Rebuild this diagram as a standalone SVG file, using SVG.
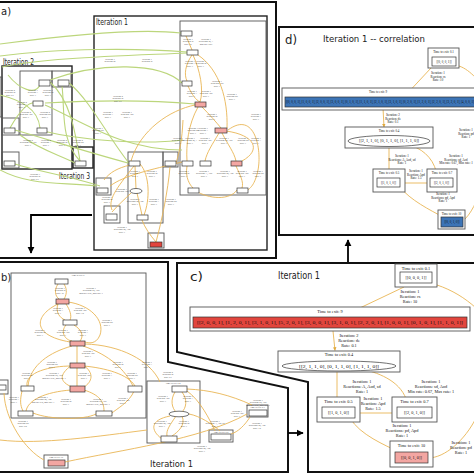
<svg xmlns="http://www.w3.org/2000/svg" width="474" height="474" viewBox="0 0 474 474">
<defs>
<marker id="ah" viewBox="0 0 6 6" refX="5.5" refY="3" markerWidth="4" markerHeight="4" orient="auto"><path d="M0,0 L6,3 L0,6 z" fill="#e0a93c"/></marker>
<marker id="bh" viewBox="0 0 10 10" refX="9" refY="5" markerWidth="4" markerHeight="4" orient="auto"><path d="M0,0 L10,5 L0,10 z" fill="#000"/></marker>
<style>
.frame{fill:none;stroke:#111;stroke-width:2}
.it{fill:none;stroke:#222;stroke-width:1.4}
.box{fill:#fff;stroke:#555;stroke-width:0.9}
.boxn{fill:none;stroke:#555;stroke-width:0.9}
.nd{fill:#fff;stroke:#333;stroke-width:0.7}
.pk{fill:#f3a6a2;stroke:#333;stroke-width:0.7}
.rd{fill:#e2453d;stroke:#333;stroke-width:0.7}
.bl{fill:#3c74b6;stroke:#333;stroke-width:0.7}
.o{fill:none;stroke:#e9b655;stroke-width:0.9}
.g{fill:none;stroke:#bcd67c;stroke-width:1.1}
.ttl{font-family:"DejaVu Sans",sans-serif;fill:#222}
.lb{font-family:"Liberation Serif",serif;font-size:4.3px;text-anchor:middle;fill:#111}
.ld{font-family:"Liberation Serif",serif;font-size:3.1px;text-anchor:middle;fill:#111}
.la{font-family:"Liberation Serif",serif;font-size:2.2px;text-anchor:middle;fill:#333}
</style>
</defs>
<rect width="474" height="474" fill="#fff"/>

<!-- ============ Panel a ============ -->
<g id="panel-a">
<rect class="frame" x="-2" y="2" width="278" height="256"/>
<text class="ttl" x="1" y="15" font-size="10">a)</text>
<rect class="it" x="94" y="16" width="173" height="234"/>
<text class="ttl" x="96" y="25" font-size="8" textLength="32" lengthAdjust="spacingAndGlyphs">Iteration 1</text>
<rect class="boxn" x="180" y="21" width="86" height="174"/>
<rect class="it" x="2" y="66" width="70" height="103"/>
<text class="ttl" x="3" y="65" font-size="8" textLength="31" lengthAdjust="spacingAndGlyphs">Iteration 2</text>
<text class="ttl" x="59" y="179" font-size="8" textLength="31" lengthAdjust="spacingAndGlyphs">Iteration 3</text>
<rect class="boxn" x="20" y="71" width="32" height="64"/>
<rect class="boxn" x="52" y="71" width="19" height="16"/>
<rect class="boxn" x="2" y="118" width="17" height="17"/>
<rect class="boxn" x="2" y="152" width="17" height="16"/>
<rect class="it" x="73" y="147" width="20" height="21"/>
<rect class="boxn" x="0" y="77" width="2" height="40" fill="#888"/>
<rect class="boxn" x="128" y="152" width="35" height="71"/>
<rect class="boxn" x="163" y="152" width="15" height="15"/>
<rect class="boxn" x="96" y="178" width="15" height="17"/>
<rect class="boxn" x="104" y="206" width="16" height="17"/>
<rect class="boxn" x="148" y="233" width="16" height="15"/>
</g>

<g id="edges-a">
<path class="g" d="M0,44 C60,36 140,28 181,33"/>
<path class="g" d="M0,56 C60,48 140,48 187,52"/>
<path class="g" d="M2,67 C40,58 120,56 187,53"/>
<path class="g" d="M50,80 C100,62 160,62 182,83"/>
<path class="g" d="M45,103 C100,100 150,100 195,104"/>
<path class="g" d="M0,170 C30,186 60,182 96,186"/>
<path class="g" d="M15,130 C50,140 80,150 128,163"/>
<path class="g" d="M69,83 C90,100 110,140 129,163"/>
<path class="g" d="M45,105 C80,120 120,150 182,150"/>
<path class="g" d="M50,82 C70,100 75,130 80,161"/>
<path class="g" d="M15,164 C40,172 70,176 100,186"/>
<path class="g" d="M43,131 C80,140 140,145 183,140"/>
<path class="g" d="M0,95 C20,100 38,108 40,128"/>
<path class="g" d="M10,128 C20,110 30,100 38,103"/>
<path class="g" d="M62,86 C65,110 60,140 80,161"/>
<path class="g" d="M8,75 C20,90 35,95 40,85"/>
<path class="g" d="M20,135 C40,150 60,155 75,163"/>
<path class="o" d="M186,36 L192,50"/>
<path class="o" d="M192,55 C185,65 184,75 187,81"/>
<path class="o" d="M193,55 C200,70 204,90 200,102"/>
<path class="o" d="M188,86 C192,95 196,100 200,102"/>
<path class="o" d="M202,107 C210,115 216,122 221,128"/>
<path class="o" d="M198,107 C188,125 186,145 187,161"/>
<path class="o" d="M219,133 C212,145 207,152 205,161"/>
<path class="o" d="M222,133 C228,145 234,152 236,161"/>
<path class="o" d="M187,166 C185,178 190,185 193,188"/>
<path class="o" d="M236,166 C240,175 244,182 242,188"/>
<path class="o" d="M198,55 C220,70 228,100 227,128"/>
<path class="o" d="M226,131 C255,135 262,150 242,161"/>
<path class="o" d="M228,130 C255,110 262,150 258,170 C255,185 250,188 248,190"/>
<path class="o" d="M194,190 C210,200 230,200 237,190"/>
<path class="o" d="M131,161 C140,130 170,110 195,105"/>
<path class="o" d="M135,166 L136,189"/>
<path class="o" d="M130,165 C118,168 110,172 104,180"/>
<path class="o" d="M137,193 L142,215"/>
<path class="o" d="M112,212 C118,205 126,198 131,193"/>
<path class="o" d="M156,242 C150,235 145,228 142,220"/>
<path class="o" d="M170,167 C168,190 162,220 156,242"/>
<path class="o" d="M134,166 C115,190 108,200 112,210"/>
<path class="o" d="M140,164 C150,175 150,200 144,215"/>
<path class="o" d="M176,163 C180,150 182,140 183,120"/>
<path class="o" d="M110,186 C125,175 150,170 182,162"/>
</g>

<g id="nodes-a">
<rect class="nd" x="181" y="31" width="11" height="5"/>
<rect class="nd" x="187" y="50" width="11" height="5"/>
<rect class="nd" x="182" y="81" width="10" height="5"/>
<rect class="pk" x="195" y="102" width="11" height="5"/>
<rect class="pk" x="215" y="128" width="12" height="5"/>
<rect class="nd" x="182" y="161" width="11" height="5"/>
<rect class="nd" x="200" y="161" width="11" height="5"/>
<rect class="pk" x="231" y="161" width="11" height="5"/>
<rect class="nd" x="188" y="188" width="11" height="5"/>
<rect class="nd" x="237" y="188" width="11" height="5"/>
<rect class="nd" x="129" y="161" width="11" height="5"/>
<ellipse class="nd" cx="136" cy="191" rx="6" ry="2.5"/>
<rect class="nd" x="137" y="215" width="11" height="5"/>
<rect class="nd" x="165" y="161" width="11" height="5"/>
<rect class="nd" x="97" y="188" width="11" height="5"/>
<rect class="nd" x="106" y="214" width="11" height="6"/>
<rect class="rd" x="150" y="242" width="12" height="5"/>
<rect class="nd" x="39" y="80" width="11" height="6"/>
<rect class="nd" x="58" y="80" width="11" height="6"/>
<rect class="nd" x="33" y="101" width="10" height="5"/>
<rect class="nd" x="37" y="128" width="10" height="5"/>
<rect class="nd" x="4" y="128" width="11" height="5"/>
<rect class="nd" x="4" y="161" width="11" height="5"/>
<rect class="nd" x="75" y="161" width="11" height="5"/>
</g>

<g id="labels-a">
<text class="la" x="110" y="60"><tspan x="110">Iteration: 1</tspan><tspan x="110" dy="2.3">Reaction: sd</tspan></text>
<text class="la" x="147" y="60"><tspan x="147">Iteration: 1</tspan><tspan x="147" dy="2.3">Reaction: rs</tspan></text>
<text class="la" x="118" y="97"><tspan x="118">Iteration: 2</tspan><tspan x="118" dy="2.3">Reaction: de</tspan><tspan x="118" dy="2.3">Rate: 0.1</tspan></text>
<text class="la" x="108" y="113"><tspan x="108">Iteration: 1</tspan><tspan x="108" dy="2.3">Reaction: A</tspan><tspan x="108" dy="2.3">Rate: 1</tspan></text>
<text class="la" x="127" y="113"><tspan x="127">Iteration: 1</tspan><tspan x="127" dy="2.3">Reaction: Apd</tspan><tspan x="127" dy="2.3">Rate: 1</tspan></text>
<text class="la" x="98" y="129"><tspan x="98">Iteration: 1</tspan><tspan x="98" dy="2.3">Reaction: pd</tspan><tspan x="98" dy="2.3">Rate: 1</tspan></text>
<text class="la" x="188" y="40"><tspan x="188">Iteration: 1</tspan><tspan x="188" dy="2.3">Reaction: rs</tspan><tspan x="188" dy="2.3">Rate: 10</tspan></text>
<text class="la" x="206" y="40"><tspan x="206">Iteration: 1</tspan><tspan x="206" dy="2.3">Reactions: sd, A</tspan><tspan x="206" dy="2.3">Min rate: 0.67</tspan></text>
<text class="la" x="190" y="62"><tspan x="190">Iteration: 1</tspan><tspan x="190" dy="2.3">Reaction: A</tspan><tspan x="190" dy="2.3">Rate: 1</tspan></text>
<text class="la" x="201" y="62"><tspan x="201">Iteration: 1</tspan><tspan x="201" dy="2.3">Reaction: sd</tspan><tspan x="201" dy="2.3">Rate: 1</tspan></text>
<text class="la" x="217" y="82"><tspan x="217">Iteration: 1</tspan><tspan x="217" dy="2.3">Reaction: Aod</tspan><tspan x="217" dy="2.3">Rate: 1</tspan></text>
<text class="la" x="232" y="95"><tspan x="232">Iteration: 1</tspan><tspan x="232" dy="2.3">Reaction: pd</tspan><tspan x="232" dy="2.3">Rate: 1</tspan></text>
<text class="la" x="192" y="92"><tspan x="192">Iteration: 1</tspan><tspan x="192" dy="2.3">Reaction: A</tspan><tspan x="192" dy="2.3">Rate: 1</tspan></text>
<text class="la" x="206" y="92"><tspan x="206">Iteration: 1</tspan><tspan x="206" dy="2.3">Reaction: Apd</tspan><tspan x="206" dy="2.3">Rate: 1</tspan></text>
<text class="la" x="212" y="115"><tspan x="212">Iteration: 1</tspan><tspan x="212" dy="2.3">Reaction: sd</tspan><tspan x="212" dy="2.3">Rate: 1</tspan></text>
<text class="la" x="256" y="115"><tspan x="256">Iteration: 1</tspan><tspan x="256" dy="2.3">Reaction: A</tspan><tspan x="256" dy="2.3">Rate: 1</tspan></text>
<text class="la" x="178" y="139"><tspan x="178">Iteration: 1</tspan><tspan x="178" dy="2.3">Reaction: Aod</tspan><tspan x="178" dy="2.3">Rate: 1</tspan></text>
<text class="la" x="193" y="129"><tspan x="193">Iteration: 1</tspan><tspan x="193" dy="2.3">Reaction: pd</tspan><tspan x="193" dy="2.3">Rate: 1</tspan></text>
<text class="la" x="203" y="129"><tspan x="203">Iteration: 1</tspan><tspan x="203" dy="2.3">Reaction: A</tspan><tspan x="203" dy="2.3">Rate: 1</tspan></text>
<text class="la" x="190" y="139"><tspan x="190">Iteration: 1</tspan><tspan x="190" dy="2.3">Reactions: sd, A</tspan><tspan x="190" dy="2.3">Rate: 1</tspan></text>
<text class="la" x="205" y="139"><tspan x="205">Iteration: 1</tspan><tspan x="205" dy="2.3">Reaction: Apd</tspan><tspan x="205" dy="2.3">Rate: 1</tspan></text>
<text class="la" x="224" y="139"><tspan x="224">Iteration: 1</tspan><tspan x="224" dy="2.3">Reactions: sd, Aod</tspan><tspan x="224" dy="2.3">Rate: 1</tspan></text>
<text class="la" x="243" y="139"><tspan x="243">Iteration: 1</tspan><tspan x="243" dy="2.3">Reaction: pd</tspan><tspan x="243" dy="2.3">Rate: 1</tspan></text>
<text class="la" x="256" y="139"><tspan x="256">Iteration: 1</tspan><tspan x="256" dy="2.3">Reaction: A</tspan><tspan x="256" dy="2.3">Rate: 1</tspan></text>
<text class="la" x="184" y="172"><tspan x="184">Iteration: 1</tspan><tspan x="184" dy="2.3">Reaction: sd</tspan><tspan x="184" dy="2.3">Rate: 1</tspan></text>
<text class="la" x="204" y="172"><tspan x="204">Iteration: 1</tspan><tspan x="204" dy="2.3">Reactions: A, Aod</tspan><tspan x="204" dy="2.3">Rate: 1</tspan></text>
<text class="la" x="225" y="172"><tspan x="225">Iteration: 1</tspan><tspan x="225" dy="2.3">Reactions: pd, Apd</tspan><tspan x="225" dy="2.3">Rate: 1</tspan></text>
<text class="la" x="242" y="172"><tspan x="242">Iteration: 1</tspan><tspan x="242" dy="2.3">Reaction: Apd</tspan><tspan x="242" dy="2.3">Rate: 1</tspan></text>
<text class="la" x="258" y="172"><tspan x="258">Iteration: 1</tspan><tspan x="258" dy="2.3">Reaction: pd</tspan><tspan x="258" dy="2.3">Rate: 1</tspan></text>
<text class="la" x="135" y="172"><tspan x="135">Iteration: 1</tspan><tspan x="135" dy="2.3">Reaction: A</tspan><tspan x="135" dy="2.3">Rate: 1</tspan></text>
<text class="la" x="152" y="172"><tspan x="152">Iteration: 1</tspan><tspan x="152" dy="2.3">Reaction: sd</tspan><tspan x="152" dy="2.3">Rate: 1</tspan></text>
<text class="la" x="122" y="190"><tspan x="122">Iteration: 1</tspan><tspan x="122" dy="2.3">Reaction: Aod</tspan></text>
<text class="la" x="135" y="200"><tspan x="135">Iteration: 1</tspan><tspan x="135" dy="2.3">Reactions: pd, Apd</tspan><tspan x="135" dy="2.3">Rate: 1</tspan></text>
<text class="la" x="154" y="200"><tspan x="154">Iteration: 1</tspan><tspan x="154" dy="2.3">Reaction: A</tspan><tspan x="154" dy="2.3">Rate: 1</tspan></text>
<text class="la" x="171" y="200"><tspan x="171">Iteration: 1</tspan><tspan x="171" dy="2.3">Reaction: pd</tspan><tspan x="171" dy="2.3">Rate: 1</tspan></text>
<text class="la" x="107" y="198"><tspan x="107">Iteration: 1</tspan><tspan x="107" dy="2.3">Reaction: sd</tspan><tspan x="107" dy="2.3">Rate: 1</tspan></text>
<text class="la" x="122" y="228"><tspan x="122">Iteration: 1</tspan><tspan x="122" dy="2.3">Reactions: pd, Apd</tspan><tspan x="122" dy="2.3">Rate: 1</tspan></text>
<text class="la" x="33" y="91"><tspan x="33">Iteration: 1</tspan><tspan x="33" dy="2.3">Reaction: A</tspan><tspan x="33" dy="2.3">Rate: 1</tspan></text>
<text class="la" x="48" y="91"><tspan x="48">Iteration: 1</tspan><tspan x="48" dy="2.3">Reaction: sd</tspan><tspan x="48" dy="2.3">Rate: 1</tspan></text>
<text class="la" x="10" y="91"><tspan x="10">Iteration: 2</tspan><tspan x="10" dy="2.3">Reaction: de</tspan><tspan x="10" dy="2.3">Rate: 0.1</tspan></text>
<text class="la" x="22" y="103"><tspan x="22">Iteration: 2</tspan><tspan x="22" dy="2.3">Reaction: A</tspan><tspan x="22" dy="2.3">Rate: 1</tspan></text>
<text class="la" x="26" y="113"><tspan x="26">Iteration: 2</tspan><tspan x="26" dy="2.3">Reaction: Apd</tspan><tspan x="26" dy="2.3">Rate: 1</tspan></text>
<text class="la" x="45" y="113"><tspan x="45">Iteration: 2</tspan><tspan x="45" dy="2.3">Reaction: pd</tspan><tspan x="45" dy="2.3">Rate: 1</tspan></text>
<text class="la" x="28" y="141"><tspan x="28">Iteration: 2</tspan><tspan x="28" dy="2.3">Reactions: sd, Aod</tspan><tspan x="28" dy="2.3">Rate: 1</tspan></text>
<text class="la" x="46" y="141"><tspan x="46">Iteration: 2</tspan><tspan x="46" dy="2.3">Reaction: A</tspan><tspan x="46" dy="2.3">Rate: 1</tspan></text>
<text class="la" x="62" y="141"><tspan x="62">Iteration: 2</tspan><tspan x="62" dy="2.3">Reaction: sd</tspan><tspan x="62" dy="2.3">Rate: 1</tspan></text>
<text class="la" x="78" y="141"><tspan x="78">Iteration: 2</tspan><tspan x="78" dy="2.3">Reaction: pd</tspan><tspan x="78" dy="2.3">Rate: 1</tspan></text>
<text class="la" x="35" y="175"><tspan x="35">Iteration: 3</tspan><tspan x="35" dy="2.3">Reaction: de</tspan><tspan x="35" dy="2.3">Rate: 0.1</tspan></text>
</g>

<!-- ============ Panel d ============ -->
<g id="panel-d">
<rect class="frame" x="279" y="27" width="200" height="208"/>
<text class="ttl" x="285" y="44" font-size="12" textLength="12" lengthAdjust="spacingAndGlyphs">d)</text>
<text class="ttl" x="323" y="42" font-size="9.5" textLength="102" lengthAdjust="spacingAndGlyphs">Iteration 1 -- correlation</text>
</g>
<g id="edges-d">
<path class="o" d="M431,68 L404,97" marker-end="url(#ah)"/>
<path class="o" d="M459,66 C465,68 470,72 476,78"/>
<path class="o" d="M383,108 L384,127" marker-end="url(#ah)"/>
<path class="o" d="M389,147 V178" marker-end="url(#ah)"/>
<path class="o" d="M412,146 C425,150 436,162 437,177" marker-end="url(#ah)"/>
<path class="o" d="M430,183 H400.5" marker-end="url(#ah)"/>
<path class="o" d="M400,187 C410,200 430,210 443,217" marker-end="url(#ah)"/>
<path class="o" d="M465,219 C470,214 473,208 476,202"/>
</g>
<g id="d-node-top">
<rect class="box" x="428" y="48" width="31" height="20"/>
<text class="ld" x="443.5" y="53">Time to exit: 0.1</text>
<rect class="nd" x="432" y="57" width="24" height="9"/>
<text class="ld" x="444" y="62.5">[[0, 0, 0, 1]]</text>
</g>
<g id="d-node-9">
<rect class="box" x="282" y="88" width="194" height="22"/>
<text class="ld" x="378" y="93">Time to exit: 9</text>
<rect class="bl" x="285" y="97" width="191" height="10"/>
<text class="ld" x="380" y="103" fill="#cfe0f5" textLength="188" lengthAdjust="spacingAndGlyphs">[[0, 0, 0, 1], [1, 0, 0, 1], [2, 0, 0, 1], [3, 0, 0, 1], [0, 1, 0, 1], [1, 1, 0, 1], [2, 1, 0, 1], [3, 1, 0, 1], [0, 2, 0, 1], [1, 2, 0, 1], [2, 2, 0, 1], [3, 2, 0, 1], [4, 0, 0, 1]</text>
</g>
<g id="d-node-04">
<rect class="box" x="345" y="127" width="88" height="21"/>
<text class="ld" x="389" y="132">Time to exit: 0.4</text>
<ellipse class="nd" cx="389" cy="141" rx="41" ry="5.5"/>
<text class="ld" x="389" y="142.2" textLength="60" lengthAdjust="spacingAndGlyphs">[[2, 1, 1, 0], [0, 1, 1, 0], [1, 1, 1, 0]]</text>
</g>
<g id="d-node-05">
<rect class="box" x="373" y="169" width="32" height="23"/>
<text class="ld" x="389" y="174">Time to exit: 0.5</text>
<rect class="nd" x="377" y="178" width="23" height="9"/>
<text class="ld" x="388.5" y="183.5">[[1, 0, 1, 0]]</text>
</g>
<g id="d-node-07">
<rect class="box" x="427" y="169" width="30" height="23"/>
<text class="ld" x="442" y="174">Time to exit: 0.7</text>
<rect class="nd" x="430" y="178" width="23" height="9"/>
<text class="ld" x="441.5" y="183.5">[[2, 0, 1, 0]]</text>
</g>
<g id="d-node-10">
<rect class="box" x="438" y="210" width="27" height="19"/>
<text class="ld" x="451.5" y="214.5">Time to exit: 10</text>
<rect class="bl" x="441" y="217" width="22" height="10"/>
<text class="ld" x="452" y="223" fill="#cfe0f5">[[0, 0, 1, 0]]</text>
</g>
<g id="labels-d">
<text class="ld" x="438" y="74"><tspan x="438">Iteration: 1</tspan><tspan x="438" dy="3.6">Reaction: rs</tspan><tspan x="438" dy="3.6">Rate: 10</tspan></text>
<text class="ld" x="393" y="116"><tspan x="393">Iteration: 2</tspan><tspan x="393" dy="3.6">Reaction: de</tspan><tspan x="393" dy="3.6">Rate: 0.1</tspan></text>
<text class="ld" x="402" y="157"><tspan x="402">Iteration: 1</tspan><tspan x="402" dy="3.6">Reactions: A, Aod, sd</tspan><tspan x="402" dy="3.6">Rate: 1</tspan></text>
<text class="ld" x="456" y="157"><tspan x="456">Iteration: 1</tspan><tspan x="456" dy="3.6">Reactions: sd, Aod</tspan><tspan x="456" dy="3.6">Min rate: 0.67, Max rate: 1</tspan></text>
<text class="ld" x="416" y="172"><tspan x="416">Iteration: 1</tspan><tspan x="416" dy="3.6">Reaction: Apd</tspan><tspan x="416" dy="3.6">Rate: 1.5</tspan></text>
<text class="ld" x="443" y="195"><tspan x="443">Iteration: 1</tspan><tspan x="443" dy="3.6">Reactions: pd, Apd</tspan><tspan x="443" dy="3.6">Rate: 1</tspan></text>
<text class="ld" x="466" y="131" text-anchor="start"><tspan x="466">Iteration: 1</tspan><tspan x="466" dy="3.6">Reaction: pd</tspan><tspan x="466" dy="3.6">Rate: 1</tspan></text>
</g>

<!-- ============ Panel b ============ -->
<g id="panel-b">
<path class="frame" d="M-2,262 H168 V362 L288,388 V472 H-2"/>
<text class="ttl" x="1" y="281" font-size="10">b)</text>
<rect class="boxn" x="11" y="273" width="135" height="145"/>
<text class="la" x="78" y="275.5">Time to exit: 9</text>
<rect class="boxn" x="147" y="381" width="53" height="62"/>
<text class="la" x="173" y="383.5">Time to exit: 0.4</text>
<rect class="boxn" x="-2" y="380" width="10" height="14"/>
<rect class="boxn" x="44" y="455" width="24" height="13"/>
<text class="la" x="56" y="458">Time to exit: 10</text>
<rect class="boxn" x="209" y="430" width="24" height="12"/>
<text class="la" x="221" y="432.5">Time to exit: 0.5</text>
<rect class="boxn" x="247" y="405" width="21" height="12"/>
<text class="la" x="257.5" y="407.5">Time to exit: 0.7</text>
<text class="ttl" x="150" y="467" font-size="9" textLength="43" lengthAdjust="spacingAndGlyphs">Iteration 1</text>
</g>
<g id="edges-b">
<path class="o" d="M58,284 C54,290 55,296 59,299"/>
<path class="o" d="M64,284 C68,290 66,296 64,299"/>
<path class="o" d="M58,304 C55,312 60,318 65,320"/>
<path class="o" d="M66,304 C70,310 72,316 70,320"/>
<path class="o" d="M68,302 C90,305 105,320 100,335 C96,345 88,343 85,342"/>
<path class="o" d="M58,304 C35,315 30,335 70,342"/>
<path class="o" d="M66,325 C60,332 65,340 72,341"/>
<path class="o" d="M74,325 C82,330 84,336 80,341"/>
<path class="o" d="M77,346 L77,363"/>
<path class="o" d="M72,346 C50,352 30,365 28,386"/>
<path class="o" d="M83,346 C110,355 125,370 133,386"/>
<path class="o" d="M85,344 C120,345 150,360 160,382"/>
<path class="o" d="M72,366 C50,366 25,372 27,386"/>
<path class="o" d="M84,366 C105,368 128,374 135,386"/>
<path class="o" d="M77,368 L77,386"/>
<path class="o" d="M72,365 C58,375 60,382 72,387"/>
<path class="o" d="M83,365 C95,373 92,382 84,387"/>
<path class="o" d="M71,390 C45,392 28,400 26,411"/>
<path class="o" d="M84,390 C100,395 104,402 104,411"/>
<path class="o" d="M22,391 C20,400 20,405 23,411"/>
<path class="o" d="M134,391 C130,402 115,410 112,413"/>
<path class="o" d="M33,413 C50,420 85,420 96,414"/>
<path class="o" d="M4,393 C5,420 25,450 44,460"/>
<path class="o" d="M65,462 C120,450 200,440 247,414"/>
<path class="o" d="M175,392 C170,400 172,408 176,412"/>
<path class="o" d="M182,392 C188,400 186,408 182,412"/>
<path class="o" d="M176,416 C170,425 166,430 167,436"/>
<path class="o" d="M182,416 C186,425 178,432 172,436"/>
<path class="o" d="M170,416 C150,420 150,430 162,439"/>
<path class="o" d="M187,389 C210,390 230,395 252,405"/>
<path class="o" d="M187,391 C200,400 210,420 215,431"/>
<path class="o" d="M189,414 C200,416 212,424 220,431"/>
<path class="o" d="M250,417 C245,425 238,432 231,434"/>
<path class="o" d="M0,440 C40,445 100,436 147,430"/>
</g>
<g id="nodes-b">
<rect class="nd" x="55" y="279" width="13" height="5"/>
<rect class="pk" x="56" y="299" width="13" height="5"/>
<rect class="nd" x="63" y="320" width="14" height="5"/>
<rect class="pk" x="70" y="341" width="15" height="5"/>
<rect class="pk" x="70" y="363" width="15" height="5"/>
<rect class="nd" x="21" y="386" width="13" height="5"/>
<rect class="pk" x="70" y="386" width="15" height="6"/>
<rect class="nd" x="128" y="386" width="14" height="6"/>
<rect class="nd" x="18" y="411" width="15" height="5"/>
<rect class="nd" x="96" y="411" width="16" height="5"/>
<rect class="nd" x="-2" y="385" width="8" height="5"/>
<rect class="pk" x="48" y="460" width="17" height="6"/>
<rect class="nd" x="172" y="386" width="15" height="6"/>
<ellipse class="nd" cx="179" cy="414" rx="10" ry="2.8"/>
<rect class="nd" x="161" y="436" width="16" height="6"/>
<rect class="nd" x="211" y="434" width="20" height="6"/>
<rect class="nd" x="249" y="410" width="18" height="6"/>
</g>
<g id="labels-b">
<text class="la" x="60" y="289"><tspan x="60">Iteration: 1</tspan><tspan x="60" dy="2.3">Reaction: rs</tspan><tspan x="60" dy="2.3">Rate: 10</tspan></text>
<text class="la" x="91" y="289"><tspan x="91">Iteration: 1</tspan><tspan x="91" dy="2.3">Reactions: sd, Aod</tspan><tspan x="91" dy="2.3">Min rate: 0.67, Max rate: 1</tspan></text>
<text class="la" x="58" y="309"><tspan x="58">Iteration: 1</tspan><tspan x="58" dy="2.3">Reaction: A</tspan><tspan x="58" dy="2.3">Rate: 1</tspan></text>
<text class="la" x="80" y="309"><tspan x="80">Iteration: 1</tspan><tspan x="80" dy="2.3">Reaction: Apd</tspan><tspan x="80" dy="2.3">Rate: 1.5</tspan></text>
<text class="la" x="107" y="321"><tspan x="107">Iteration: 1</tspan><tspan x="107" dy="2.3">Reaction: pd</tspan><tspan x="107" dy="2.3">Rate: 1</tspan></text>
<text class="la" x="40" y="331"><tspan x="40">Iteration: 1</tspan><tspan x="40" dy="2.3">Reaction: sd</tspan><tspan x="40" dy="2.3">Rate: 1</tspan></text>
<text class="la" x="63" y="331"><tspan x="63">Iteration: 1</tspan><tspan x="63" dy="2.3">Reaction: Aod</tspan><tspan x="63" dy="2.3">Rate: 1</tspan></text>
<text class="la" x="83" y="331"><tspan x="83">Iteration: 1</tspan><tspan x="83" dy="2.3">Reaction: A</tspan><tspan x="83" dy="2.3">Rate: 1</tspan></text>
<text class="la" x="88" y="352"><tspan x="88">Iteration: 1</tspan><tspan x="88" dy="2.3">Reaction: Apd</tspan><tspan x="88" dy="2.3">Rate: 1</tspan></text>
<text class="la" x="52" y="363"><tspan x="52">Iteration: 1</tspan><tspan x="52" dy="2.3">Reaction: pd</tspan><tspan x="52" dy="2.3">Rate: 1</tspan></text>
<text class="la" x="118" y="363"><tspan x="118">Iteration: 1</tspan><tspan x="118" dy="2.3">Reaction: sd</tspan><tspan x="118" dy="2.3">Rate: 1</tspan></text>
<text class="la" x="147" y="363"><tspan x="147">Iteration: 1</tspan><tspan x="147" dy="2.3">Reaction: A</tspan><tspan x="147" dy="2.3">Rate: 1</tspan></text>
<text class="la" x="27" y="374"><tspan x="27">Iteration: 1</tspan><tspan x="27" dy="2.3">Reaction: sd</tspan><tspan x="27" dy="2.3">Rate: 1</tspan></text>
<text class="la" x="54" y="374"><tspan x="54">Iteration: 1</tspan><tspan x="54" dy="2.3">Reactions: sd, Aod</tspan><tspan x="54" dy="2.3">Min rate: 0.67, Max rate: 1</tspan></text>
<text class="la" x="84" y="374"><tspan x="84">Iteration: 1</tspan><tspan x="84" dy="2.3">Reaction: Apd</tspan><tspan x="84" dy="2.3">Rate: 1</tspan></text>
<text class="la" x="107" y="374"><tspan x="107">Iteration: 1</tspan><tspan x="107" dy="2.3">Reaction: A</tspan><tspan x="107" dy="2.3">Rate: 1</tspan></text>
<text class="la" x="132" y="374"><tspan x="132">Iteration: 1</tspan><tspan x="132" dy="2.3">Reaction: pd</tspan><tspan x="132" dy="2.3">Rate: 1</tspan></text>
<text class="la" x="14" y="398"><tspan x="14">Iteration: 1</tspan><tspan x="14" dy="2.3">Reaction: A</tspan><tspan x="14" dy="2.3">Rate: 1</tspan></text>
<text class="la" x="43" y="398"><tspan x="43">Iteration: 1</tspan><tspan x="43" dy="2.3">Reactions: pd, Apd</tspan><tspan x="43" dy="2.3">Min rate: 0.5, Max rate: 1</tspan></text>
<text class="la" x="66" y="400"><tspan x="66">Iteration: 1</tspan><tspan x="66" dy="2.3">Reaction: sd</tspan><tspan x="66" dy="2.3">Rate: 1</tspan></text>
<text class="la" x="98" y="400"><tspan x="98">Iteration: 1</tspan><tspan x="98" dy="2.3">Reactions: sd, Aod</tspan><tspan x="98" dy="2.3">Min rate: 0.67, Max rate: 1</tspan></text>
<text class="la" x="123" y="399"><tspan x="123">Iteration: 1</tspan><tspan x="123" dy="2.3">Reaction: Apd</tspan><tspan x="123" dy="2.3">Rate: 1</tspan></text>
<text class="la" x="23" y="422"><tspan x="23">Iteration: 1</tspan><tspan x="23" dy="2.3">Reaction: pd</tspan><tspan x="23" dy="2.3">Rate: 0.5</tspan></text>
<text class="la" x="168" y="373"><tspan x="168">Iteration: 2</tspan><tspan x="168" dy="2.3">Reaction: de</tspan><tspan x="168" dy="2.3">Rate: 0.1</tspan></text>
<text class="la" x="163" y="397"><tspan x="163">Iteration: 1</tspan><tspan x="163" dy="2.3">Reaction: Apd</tspan><tspan x="163" dy="2.3">Rate: 1</tspan></text>
<text class="la" x="188" y="397"><tspan x="188">Iteration: 1</tspan><tspan x="188" dy="2.3">Reaction: A</tspan><tspan x="188" dy="2.3">Rate: 1</tspan></text>
<text class="la" x="162" y="422"><tspan x="162">Iteration: 1</tspan><tspan x="162" dy="2.3">Reactions: pd, Apd</tspan><tspan x="162" dy="2.3">Rate: 1</tspan></text>
<text class="la" x="184" y="422"><tspan x="184">Iteration: 1</tspan><tspan x="184" dy="2.3">Reaction: sd</tspan><tspan x="184" dy="2.3">Rate: 1</tspan></text>
<text class="la" x="215" y="422"><tspan x="215">Iteration: 1</tspan><tspan x="215" dy="2.3">Reactions: A, Aod, sd</tspan><tspan x="215" dy="2.3">Rate: 1</tspan></text>
<text class="la" x="237" y="412"><tspan x="237">Iteration: 1</tspan><tspan x="237" dy="2.3">Reaction: Apd</tspan><tspan x="237" dy="2.3">Rate: 1</tspan></text>
<text class="la" x="258" y="401"><tspan x="258">Iteration: 1</tspan><tspan x="258" dy="2.3">Reactions: sd, Aod</tspan><tspan x="258" dy="2.3">Min rate: 0.67, Max rate: 1</tspan></text>
<text class="la" x="257" y="424"><tspan x="257">Iteration: 1</tspan><tspan x="257" dy="2.3">Reactions: pd, Apd</tspan><tspan x="257" dy="2.3">Rate: 1.5</tspan></text>
<text class="la" x="202" y="447"><tspan x="202">Iteration: 1</tspan><tspan x="202" dy="2.3">Reactions: pd, Apd</tspan><tspan x="202" dy="2.3">Rate: 1</tspan></text>
</g>

<!-- ============ Panel c ============ -->
<g id="panel-c">
<path class="frame" d="M476,263 H177 V352 L308,382 V472 H476"/>
<text class="ttl" x="190" y="281" font-size="12" textLength="13" lengthAdjust="spacingAndGlyphs">c)</text>
<text class="ttl" x="278" y="279" font-size="10" textLength="42" lengthAdjust="spacingAndGlyphs">Iteration 1</text>
</g>
<g id="edges-c">
<path class="o" d="M404,287 L343,316" marker-end="url(#ah)"/>
<path class="o" d="M437,285 C452,290 465,298 476,308"/>
<path class="o" d="M333,331 L335,350.5" marker-end="url(#ah)"/>
<path class="o" d="M337,371 V406.5" marker-end="url(#ah)"/>
<path class="o" d="M366,370 C385,375 405,385 408,406.5" marker-end="url(#ah)"/>
<path class="o" d="M397,413 H355.5" marker-end="url(#ah)"/>
<path class="o" d="M350,418 C360,435 385,445 399,452" marker-end="url(#ah)"/>
<path class="o" d="M428,458 C445,458 465,440 476,418"/>
</g>
<g id="c-node-top">
<rect class="box" x="395" y="264" width="42" height="23"/>
<text class="lb" x="416" y="269.5" font-size="3.8px">Time to exit: 0.1</text>
<rect class="nd" x="400" y="272" width="32" height="11"/>
<text class="lb" x="416" y="279">[[0, 0, 0, 1]]</text>
</g>
<g id="c-node-9">
<rect class="box" x="190" y="307" width="280" height="24"/>
<text class="lb" x="330" y="312.5" font-size="3.8px">Time to exit: 9</text>
<rect class="rd" x="193" y="317" width="274" height="11"/>
<text class="lb" x="330" y="324" textLength="266" lengthAdjust="spacingAndGlyphs">[[2, 0, 0, 1], [1, 2, 0, 1], [3, 1, 0, 1], [5, 2, 0, 1], [3, 0, 0, 1], [3, 1, 0, 1], [2, 2, 0, 1], [1, 0, 0, 1], [0, 1, 0, 1], [1, 1, 0, 1]]</text>
</g>
<g id="c-node-04">
<rect class="box" x="278" y="351" width="122" height="21"/>
<text class="lb" x="339" y="356" font-size="3.8px">Time to exit: 0.4</text>
<ellipse class="nd" cx="339" cy="366" rx="57" ry="5"/>
<text class="lb" x="339" y="367.5" textLength="80" lengthAdjust="spacingAndGlyphs">[[2, 1, 1, 0], [0, 1, 1, 0], [1, 1, 1, 0]]</text>
</g>
<g id="c-node-05">
<rect class="box" x="317" y="397" width="43" height="25"/>
<text class="lb" x="338.5" y="402.5" font-size="3.8px">Time to exit: 0.5</text>
<rect class="nd" x="322" y="407" width="33" height="11"/>
<text class="lb" x="338.5" y="414">[[1, 0, 1, 0]]</text>
</g>
<g id="c-node-07">
<rect class="box" x="392" y="397" width="45" height="25"/>
<text class="lb" x="414.5" y="402.5" font-size="3.8px">Time to exit: 0.7</text>
<rect class="nd" x="397" y="407" width="35" height="11"/>
<text class="lb" x="414.5" y="414">[[2, 0, 1, 0]]</text>
</g>
<g id="c-node-10">
<rect class="box" x="390" y="441" width="43" height="26"/>
<text class="lb" x="411.5" y="446.5" font-size="3.8px">Time to exit: 10</text>
<rect class="pk" x="395" y="452" width="33" height="11"/>
<text class="lb" x="411.5" y="459">[[0, 0, 1, 0]]</text>
</g>
<g id="labels-c">
<text class="lb" x="410" y="293"><tspan x="410">Iteration: 1</tspan><tspan x="410" dy="4.8">Reaction: rs</tspan><tspan x="410" dy="4.8">Rate: 10</tspan></text>
<text class="lb" x="349" y="337"><tspan x="349">Iteration: 2</tspan><tspan x="349" dy="4.8">Reaction: de</tspan><tspan x="349" dy="4.8">Rate: 0.1</tspan></text>
<text class="lb" x="362" y="383"><tspan x="362">Iteration: 1</tspan><tspan x="362" dy="4.8">Reactions: A, Aod, sd</tspan><tspan x="362" dy="4.8">Rate: 1</tspan></text>
<text class="lb" x="431" y="383"><tspan x="431">Iteration: 1</tspan><tspan x="431" dy="4.8">Reactions: sd, Aod</tspan><tspan x="431" dy="4.8">Min rate: 0.67, Max rate: 1</tspan></text>
<text class="lb" x="373" y="400"><tspan x="373">Iteration: 1</tspan><tspan x="373" dy="4.8">Reaction: Apd</tspan><tspan x="373" dy="4.8">Rate: 1.5</tspan></text>
<text class="lb" x="402" y="427"><tspan x="402">Iteration: 1</tspan><tspan x="402" dy="4.8">Reactions: pd, Apd</tspan><tspan x="402" dy="4.8">Rate: 1</tspan></text>
<text class="lb" x="461" y="444" text-anchor="start"><tspan x="461">Iteration: 1</tspan><tspan x="461" dy="4.8">Reaction: pd</tspan><tspan x="461" dy="4.8">Rate: 1</tspan></text>
</g>

<!-- ============ Panel arrows ============ -->
<g id="panel-arrows">
<path d="M92,215 H31 V253" fill="none" stroke="#000" stroke-width="1.8" marker-end="url(#bh)"/>
<path d="M348,262 V240" fill="none" stroke="#000" stroke-width="1.8" marker-end="url(#bh)"/>
<path d="M288,433 H303" fill="none" stroke="#000" stroke-width="1.8" marker-end="url(#bh)"/>
</g>
</svg>
